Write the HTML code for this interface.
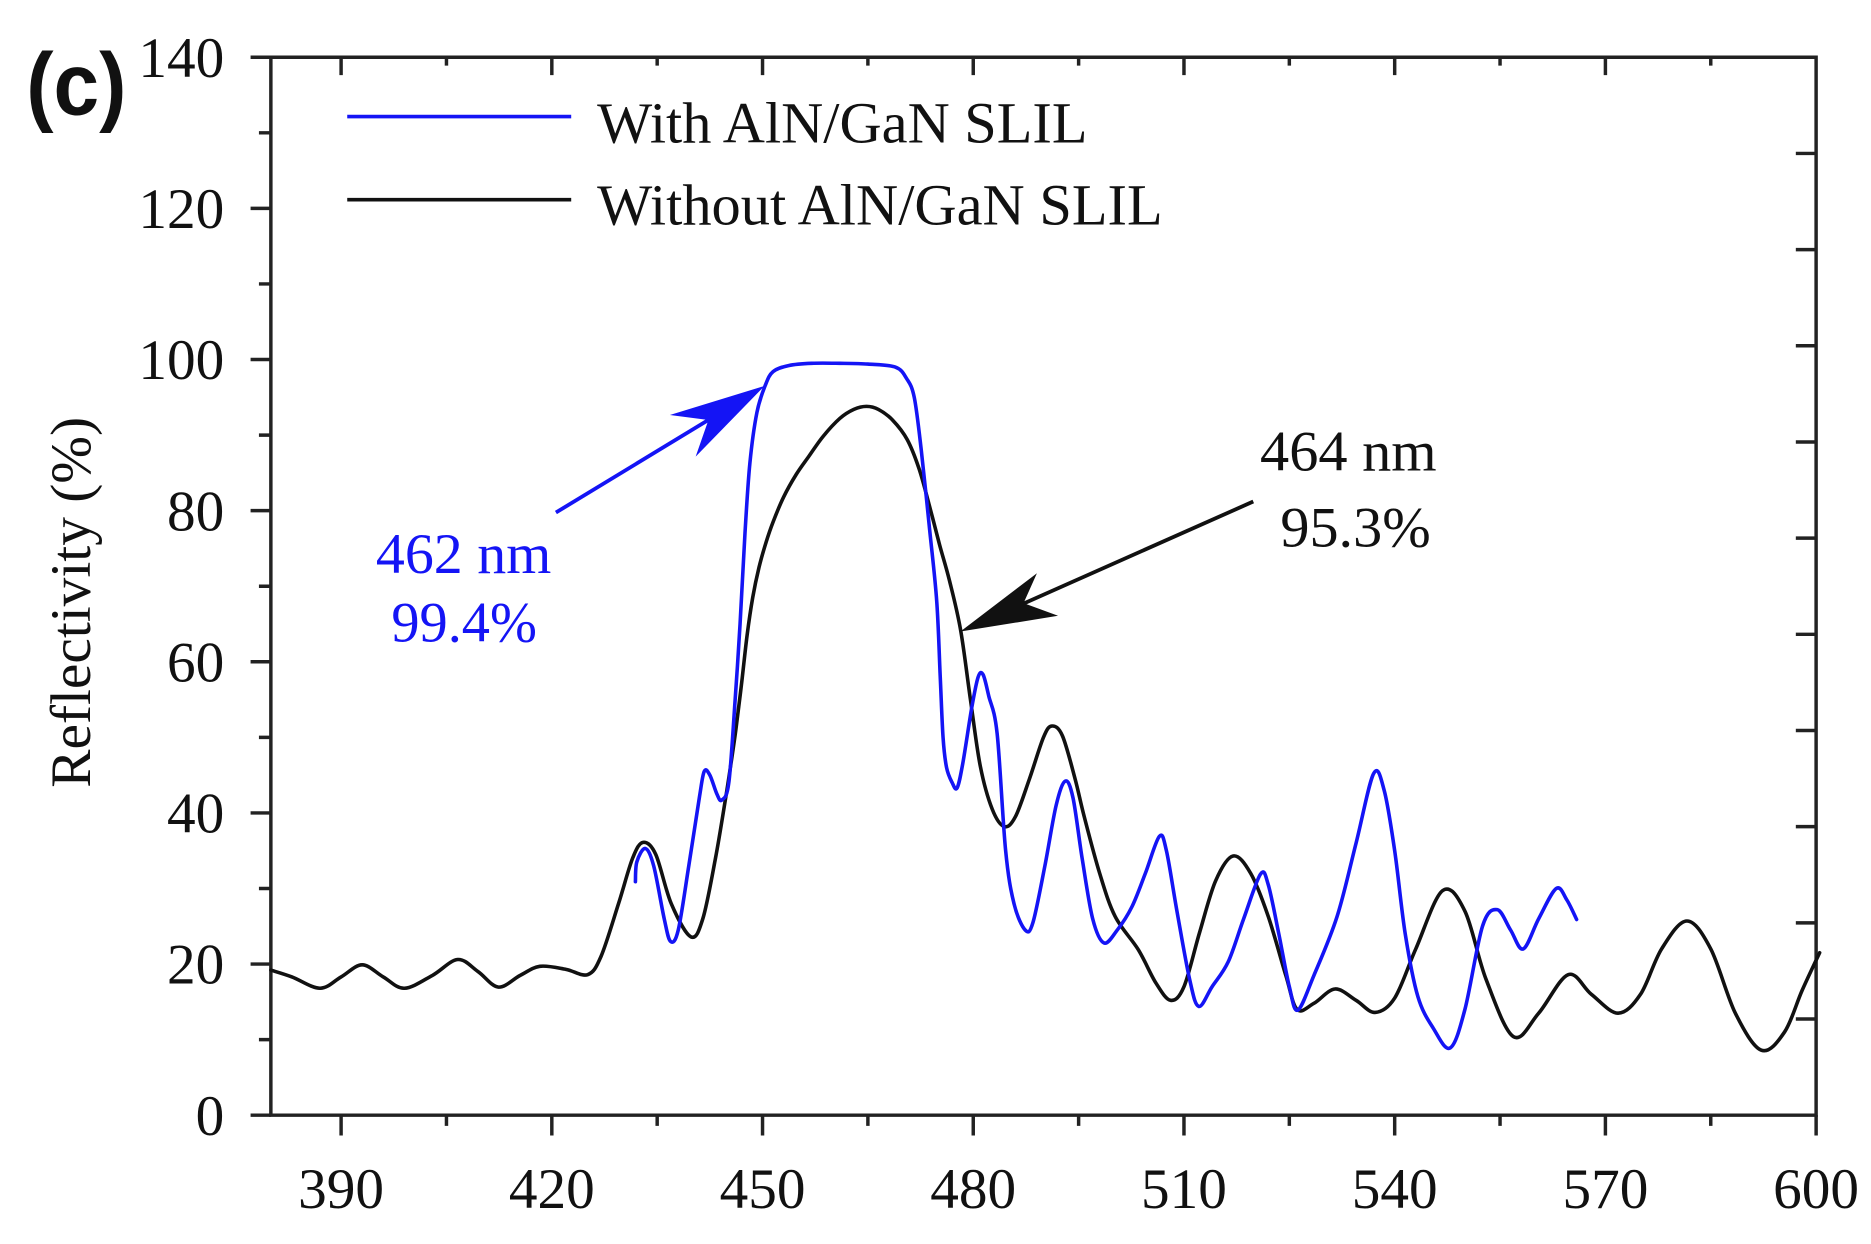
<!DOCTYPE html>
<html>
<head>
<meta charset="utf-8">
<style>
html,body{margin:0;padding:0;background:#fff;}
svg{display:block;}
.serif{font-family:"Liberation Serif","DejaVu Serif",serif;}
</style>
</head>
<body>
<svg id="chart" width="1871" height="1244" viewBox="0 0 1568 1043" preserveAspectRatio="none" xmlns="http://www.w3.org/2000/svg">
<rect x="0" y="0" width="1568" height="1043" fill="#fff"/>

<!-- axes frame -->
<path d="M227,48 H1522 V935 H227 Z" fill="none" stroke="#222" stroke-width="2.9"/>
<!-- ticks -->
<path fill="none" stroke="#222" stroke-width="2.9" d="
M210,935H227 M210,808.29H227 M210,681.57H227 M210,554.86H227 M210,428.14H227 M210,301.43H227 M210,174.72H227 M210,48H227
M217,871.64H227 M217,744.93H227 M217,618.22H227 M217,491.5H227 M217,364.79H227 M217,238.07H227 M217,111.36H227
M285.86,935V952 M462.46,935V952 M639.05,935V952 M815.64,935V952 M992.23,935V952 M1168.82,935V952 M1345.42,935V952 M1522.01,935V952
M374.16,935V944 M550.75,935V944 M727.34,935V944 M903.94,935V944 M1080.53,935V944 M1257.12,935V944 M1433.71,935V944
M285.86,48V63 M462.46,48V63 M639.05,48V63 M815.64,48V63 M992.23,48V63 M1168.82,48V63 M1345.42,48V63
M374.16,48V55 M550.75,48V55 M727.34,48V55 M903.94,48V55 M1080.53,48V55 M1257.12,48V55 M1433.71,48V55
M1505,128.64H1522 M1505,209.27H1522 M1505,289.91H1522 M1505,370.55H1522 M1505,451.18H1522 M1505,531.82H1522 M1505,612.45H1522 M1505,693.09H1522 M1505,773.73H1522 M1505,854.36H1522
"/>

<!-- y tick labels -->
<g class="serif" font-size="48" fill="#111" text-anchor="end">
<text x="188" y="951.5">0</text>
<text x="188" y="824.8">20</text>
<text x="188" y="698.1">40</text>
<text x="188" y="571.4">60</text>
<text x="188" y="444.6">80</text>
<text x="188" y="317.9">100</text>
<text x="188" y="191.2">120</text>
<text x="188" y="64.5">140</text>
</g>
<!-- x tick labels -->
<g class="serif" font-size="48" fill="#111" text-anchor="middle">
<text x="285.86" y="1012.8">390</text>
<text x="462.46" y="1012.8">420</text>
<text x="639.05" y="1012.8">450</text>
<text x="815.64" y="1012.8">480</text>
<text x="992.23" y="1012.8">510</text>
<text x="1168.82" y="1012.8">540</text>
<text x="1345.42" y="1012.8">570</text>
<text x="1522.01" y="1012.8">600</text>
</g>

<!-- y axis label -->
<text class="serif" transform="translate(75.4,505) rotate(-90)" font-size="48" fill="#111" text-anchor="middle" textLength="311" lengthAdjust="spacingAndGlyphs">Reflectivity (%)</text>

<!-- panel label -->
<text x="22" y="96" style="font-family:'Liberation Sans','DejaVu Sans',sans-serif;font-weight:bold;font-size:74px;" fill="#111" textLength="84" lengthAdjust="spacingAndGlyphs">(c)</text>

<!-- legend -->
<line x1="291" y1="97.7" x2="478.7" y2="97.7" stroke="#1414f5" stroke-width="3"/>
<line x1="291" y1="167.4" x2="478.7" y2="167.4" stroke="#111" stroke-width="3"/>
<text class="serif" x="500.4" y="119.3" font-size="49" fill="#111" textLength="411" lengthAdjust="spacingAndGlyphs">With AlN/GaN SLIL</text>
<text class="serif" x="500.4" y="188.3" font-size="49" fill="#111" textLength="474" lengthAdjust="spacingAndGlyphs">Without AlN/GaN SLIL</text>

<!-- curves (fallback polylines, smoothed by script) -->
<polyline id="blk" fill="none" stroke="#111" stroke-width="3" vector-effect="non-scaling-stroke" stroke-linejoin="round"
transform="matrix(5.8864 0 0 -6.3357 -2009.83 935)"
points="380,19.2 383,18.3 387,16.8 390,18.3 393,19.9 396,18.3 399,16.8 403,18.5 406.6,20.6 409.5,19 412.4,16.95 415.5,18.5 418.3,19.7 422,19.3 425.1,18.6 427,21 429.5,28 431.5,34 433,36.1 434.8,34.5 437,28 439.8,23.6 441.5,26 443.3,34 444.7,41.7 445.5,46.5 446.2,51 447,57 447.8,63.5 448.6,68.5 449.5,72.5 450.5,75.8 451.5,78.5 453,81.8 454.8,84.8 456.6,87.2 458.6,89.8 461,92.2 463,93.4 464.8,93.8 466.5,93.4 468.5,92 470.6,89.4 472.3,85.5 473.8,80.5 475.2,75.5 476.6,70.8 478.2,64.2 479.6,55 481,46.2 482.7,40.5 484.4,38.2 486,39.5 488,44.5 490,50 491.2,51.5 492.7,50.2 494.5,44.5 495.8,39.5 498,32 500.2,26.3 503.5,21.9 506,17.5 508.1,15.2 510,17 512.2,24.1 514.5,31 517,34.3 519.5,32 522,26.3 524.5,18.5 526.1,14 528.5,14.8 531.5,16.7 534.5,15.2 537.2,13.6 540,15.5 543,22 546.8,29.7 550,27 553,18 556.9,10.4 560.5,13.5 564.7,18.6 568,16 571.8,13.5 575,16 578,22 581.6,25.7 585,22 588.5,13.5 592.2,8.6 595.5,11 598,16.5 600.5,21.5"/>
<polyline id="blu" fill="none" stroke="#1414f5" stroke-width="3" vector-effect="non-scaling-stroke" stroke-linejoin="round"
transform="matrix(5.8864 0 0 -6.3357 -2009.83 935)"
points="431.9,30.9 432.1,33.5 433.3,35.3 434.5,33 436,26 436.9,23 438,24.5 439.5,33 441,42 441.7,45.5 442.5,45 443.5,42.5 444.2,41.7 445.2,44 446.1,55 446.8,65 447.5,77 448.2,86.3 449.2,93 450.4,96.6 451.5,98.4 453.7,99.2 457,99.5 461,99.5 465,99.4 468.9,99 470.5,97.5 471.6,95 472.6,88 473.8,77.4 474.8,68 475.3,58 475.7,50 476.2,46 477,44 477.7,43.3 478.5,46.5 479.8,54 480.7,58 481.4,58.3 482.2,55.5 483.4,50.5 484.6,35.1 485.8,28 487.4,24.5 488.5,25.5 490.2,33 491.8,41 493.1,44.2 494.2,42 495.5,34 497,26 498.6,22.8 500.5,24.5 502.6,27.6 504.5,32 506.5,36.9 507.5,35 509,27 510.8,18 512.1,14.4 514,17 516.3,20.3 518.5,26 520.9,31.9 522,30.5 523.5,24 525,17 526.2,13.9 528.5,18.5 531.8,26.3 534.5,36 537,45.2 538.5,43 540,35 541.5,24 543.3,15.7 545.5,11.5 547.9,8.9 550,14 552.5,25 554.6,27.2 556.5,24.5 558.3,22 560.5,26 563,30 564.5,28.5 565.9,25.9"/>

<!-- blue annotation arrow -->
<line x1="465.9" y1="429.7" x2="600" y2="348.3" stroke="#1414f5" stroke-width="3.2"/>
<polygon points="640.7,323.6 561.4,347.9 593.7,352.1 583,382.8" fill="#1414f5"/>
<text class="serif" x="315" y="480.6" font-size="48" fill="#1414f5" textLength="147" lengthAdjust="spacingAndGlyphs">462 nm</text>
<text class="serif" x="328" y="537.9" font-size="48" fill="#1414f5" textLength="122" lengthAdjust="spacingAndGlyphs">99.4%</text>

<!-- black annotation arrow -->
<line x1="1050.3" y1="420.5" x2="850" y2="509.5" stroke="#111" stroke-width="3.2"/>
<polygon points="804.9,529.5 869,480.6 857.8,505.7 886.7,516.3" fill="#111"/>
<text class="serif" x="1056" y="394.5" font-size="48" fill="#111" textLength="148" lengthAdjust="spacingAndGlyphs">464 nm</text>
<text class="serif" x="1073" y="458.2" font-size="48" fill="#111" textLength="126" lengthAdjust="spacingAndGlyphs">95.3%</text>
</svg>

<script>
(function(){
  function X(x){return 227+(x-380)*5.8864;}
  function Y(y){return 935-y*6.3357;}
  var ns="http://www.w3.org/2000/svg";
  ["blk","blu"].forEach(function(id){
    var pl=document.getElementById(id);
    if(!pl) return;
    var raw=pl.getAttribute("points").trim().split(/\s+/);
    var pts=raw.map(function(s){var a=s.split(",");return [X(parseFloat(a[0])),Y(parseFloat(a[1]))];});
    var d="M"+pts[0][0].toFixed(2)+","+pts[0][1].toFixed(2);
    var t=1/6;
    for(var i=0;i<pts.length-1;i++){
      var p0=pts[i-1]||pts[i],p1=pts[i],p2=pts[i+1],p3=pts[i+2]||pts[i+1];
      var c1x=p1[0]+(p2[0]-p0[0])*t,c1y=p1[1]+(p2[1]-p0[1])*t;
      var c2x=p2[0]-(p3[0]-p1[0])*t,c2y=p2[1]-(p3[1]-p1[1])*t;
      d+=" C"+c1x.toFixed(2)+","+c1y.toFixed(2)+" "+c2x.toFixed(2)+","+c2y.toFixed(2)+" "+p2[0].toFixed(2)+","+p2[1].toFixed(2);
    }
    var p=document.createElementNS(ns,"path");
    p.setAttribute("d",d);
    p.setAttribute("fill","none");
    p.setAttribute("stroke",pl.getAttribute("stroke"));
    p.setAttribute("stroke-width","3");
    p.setAttribute("stroke-linejoin","round");
    p.setAttribute("stroke-linecap","round");
    pl.parentNode.insertBefore(p,pl);
    pl.parentNode.removeChild(pl);
  });
})();
</script>
</body>
</html>
